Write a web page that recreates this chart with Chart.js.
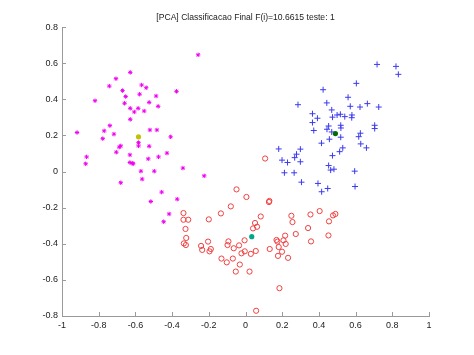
<!DOCTYPE html>
<html>
<head>
<meta charset="utf-8">
<script src="https://cdn.jsdelivr.net/npm/chart.js@4"></script>
<style>
  html, body { margin: 0; padding: 0; background: #fff; }
  #wrap { width: 474px; height: 355px; }
</style>
</head>
<body>
<div id="wrap"><canvas id="grafico" width="474" height="355"></canvas></div>
<script>
// grupo 1 (magenta, *)
const grupo1X = [-0.258, -0.628, -0.706, -0.742, -0.566, -0.541, -0.670, -0.376, -0.577, -0.653,
  -0.487, -0.820, -0.525, -0.659, -0.476, -0.628, -0.585, -0.606, -0.552, -0.628,
  -0.739, -0.770, -0.918, -0.717, -0.521, -0.483, -0.778, -0.408, -0.583, -0.583,
  -0.680, -0.688, -0.525, -0.704, -0.428, -0.866, -0.630, -0.474, -0.530, -0.871,
  -0.630, -0.617, -0.612, -0.341, -0.570, -0.497, -0.225, -0.563, -0.680, -0.457,
  -0.372, -0.516, -0.416, -0.446];
const grupo1Y = [0.646, 0.549, 0.514, 0.473, 0.479, 0.464, 0.448, 0.444, 0.428, 0.415,
  0.418, 0.392, 0.383, 0.378, 0.361, 0.350, 0.350, 0.330, 0.335, 0.289,
  0.254, 0.225, 0.216, 0.207, 0.230, 0.230, 0.182, 0.192, 0.160, 0.142,
  0.142, 0.135, 0.140, 0.107, 0.102, 0.081, 0.092, 0.081, 0.070, 0.043,
  0.050, 0.046, 0.043, 0.019, 0.002, 0.002, -0.024, -0.042, -0.062, -0.114,
  -0.153, -0.166, -0.235, -0.278];

// grupo 2 (azul, +)
const grupo2X = [0.717, 0.820, 0.833, 0.604, 0.423, 0.559, 0.286, 0.443, 0.571, 0.624,
  0.664, 0.726, 0.470, 0.365, 0.392, 0.474, 0.499, 0.517, 0.541, 0.580,
  0.579, 0.365, 0.453, 0.519, 0.520, 0.704, 0.704, 0.372, 0.444, 0.470,
  0.626, 0.617, 0.519, 0.457, 0.414, 0.628, 0.530, 0.659, 0.513, 0.181,
  0.299, 0.278, 0.268, 0.474, 0.199, 0.229, 0.299, 0.453, 0.482, 0.464,
  0.212, 0.265, 0.595, 0.305, 0.395, 0.448, 0.415, 0.597];
const grupo2Y = [0.593, 0.582, 0.538, 0.488, 0.453, 0.411, 0.370, 0.380, 0.361, 0.357,
  0.376, 0.357, 0.341, 0.320, 0.295, 0.301, 0.313, 0.317, 0.304, 0.313,
  0.298, 0.271, 0.252, 0.256, 0.241, 0.256, 0.238, 0.227, 0.234, 0.219,
  0.212, 0.193, 0.190, 0.179, 0.157, 0.153, 0.131, 0.131, 0.110, 0.125,
  0.124, 0.096, 0.077, 0.088, 0.063, 0.050, 0.054, 0.033, 0.013, 0.008,
  -0.007, -0.007, 0.002, -0.059, -0.066, -0.094, -0.112, -0.083];

// grupo 3 (vermelho, o)
const grupo3X = [0.107, -0.049, 0.005, -0.080, 0.128, 0.130, -0.134, -0.338, -0.338, -0.312,
  -0.200, 0.083, 0.052, 0.063, 0.041, 0.250, 0.256, 0.354, 0.404, 0.477,
  0.490, 0.455, 0.341, -0.327, 0.274, 0.216, 0.452, 0.357, -0.323, -0.336,
  -0.325, -0.204, -0.093, -0.005, -0.242, -0.236, -0.189, -0.196, -0.098, -0.064,
  -0.035, -0.022, -0.004, 0.029, 0.056, 0.169, 0.174, 0.207, 0.219, 0.181,
  0.132, 0.199, 0.177, 0.232, -0.131, -0.069, -0.102, -0.031, -0.053, 0.022,
  0.185, 0.058];
const grupo3Y = [0.072, -0.099, -0.141, -0.193, -0.169, -0.163, -0.232, -0.230, -0.267, -0.267,
  -0.265, -0.249, -0.285, -0.306, -0.315, -0.245, -0.280, -0.238, -0.219, -0.243,
  -0.235, -0.276, -0.313, -0.318, -0.346, -0.355, -0.354, -0.387, -0.368, -0.398,
  -0.407, -0.388, -0.387, -0.381, -0.412, -0.434, -0.429, -0.442, -0.407, -0.425,
  -0.409, -0.453, -0.442, -0.456, -0.440, -0.379, -0.388, -0.381, -0.401, -0.418,
  -0.429, -0.444, -0.467, -0.478, -0.482, -0.482, -0.503, -0.515, -0.554, -0.554,
  -0.646, -0.771];

// centroides
const centroX = [-0.583, 0.490, 0.034];
const centroY = [0.192, 0.210, -0.361];
const centroCores = ["#c2c200", "#006f00", "#00a88a"];

const xTicks = [-1, -0.8, -0.6, -0.4, -0.2, 0, 0.2, 0.4, 0.6, 0.8, 1];
const xTickLabels = ["-1", "-0.8", "-0.6", "-0.4", "-0.2", "0", "0.2", "0.4", "0.6", "0.8", "1"];
const yTicks = [-0.8, -0.6, -0.4, -0.2, 0, 0.2, 0.4, 0.6, 0.8];
const yTickLabels = ["-0.8", "-0.6", "-0.4", "-0.2", "0", "0.2", "0.4", "0.6", "0.8"];

const titulo = "[PCA] Classificacao Final F(i)=10.6615 teste: 1";

const pontos = (xs, ys) => xs.map((x, i) => ({ x: x, y: ys[i] }));

// ticks pra dentro, estilo matlab
const ticksDentro = {
  id: "ticksDentro",
  afterDraw(chart) {
    const ctx = chart.ctx;
    const sx = chart.scales.x, sy = chart.scales.y;
    const area = chart.chartArea;
    ctx.save();
    ctx.strokeStyle = "#9a9a9a";
    ctx.lineWidth = 1;
    ctx.beginPath();
    xTicks.forEach((v) => {
      const px = Math.round(sx.getPixelForValue(v)) + 0.5;
      ctx.moveTo(px, area.bottom);
      ctx.lineTo(px, area.bottom - 4);
    });
    yTicks.forEach((v) => {
      const py = Math.round(sy.getPixelForValue(v)) + 0.5;
      ctx.moveTo(area.left, py);
      ctx.lineTo(area.left + 4, py);
    });
    ctx.stroke();
    ctx.restore();
  },
};

// titulo centrado sobre a area do grafico
const tituloCentrado = {
  id: "tituloCentrado",
  afterLayout(chart) {
    const tb = chart.titleBlock;
    if (!tb) return;
    tb.left = chart.chartArea.left;
    tb.right = chart.chartArea.right;
    tb.width = tb.right - tb.left;
  },
};

const canvas = document.getElementById("grafico").getContext("2d");

const grafico = new Chart(canvas, {
  type: "scatter",
  data: {
    datasets: [
      {
        label: "grupo 1",
        data: pontos(grupo1X, grupo1Y),
        pointStyle: "star",
        pointRadius: 2.2,
        borderColor: "#f000f0",
        backgroundColor: "#f000f0",
        borderWidth: 1,
      },
      {
        label: "grupo 2",
        data: pontos(grupo2X, grupo2Y),
        pointStyle: "cross",
        pointRadius: 3,
        borderColor: "#3b3bf0",
        backgroundColor: "#3b3bf0",
        borderWidth: 1,
      },
      {
        label: "grupo 3",
        data: pontos(grupo3X, grupo3Y),
        pointStyle: "circle",
        pointRadius: 2.6,
        borderColor: "#f04040",
        backgroundColor: "rgba(0,0,0,0)",
        borderWidth: 1,
      },
      {
        label: "centroides",
        data: pontos(centroX, centroY),
        pointStyle: "circle",
        pointRadius: 2.6,
        borderColor: centroCores,
        backgroundColor: centroCores,
        borderWidth: 0,
      },
    ],
  },
  options: {
    responsive: false,
    animation: false,
    layout: {
      padding: { left: 0, right: 45, top: 0, bottom: 0 },
    },
    plugins: {
      legend: { display: false },
      tooltip: { enabled: false },
      title: {
        display: true,
        text: titulo,
        color: "#222",
        font: { family: "Arial, 'Liberation Sans', sans-serif", size: 8.6, weight: "normal", lineHeight: 1.4 },
        padding: { top: 12, bottom: 3 },
      },
    },
    scales: {
      x: {
        type: "linear",
        min: -1,
        max: 1,
        afterBuildTicks: (s) => { s.ticks = xTicks.map((v) => ({ value: v })); },
        afterFit: (s) => { s.height = 39; },
        grid: { display: false, drawTicks: false },
        border: { display: true, color: "#9a9a9a", width: 1 },
        ticks: {
          padding: 4,
          maxRotation: 0,
          autoSkip: false,
          color: "#222",
          font: { family: "Arial, 'Liberation Sans', sans-serif", size: 9 },
          callback: (v, i) => xTickLabels[i],
        },
      },
      y: {
        type: "linear",
        min: -0.8,
        max: 0.8,
        afterBuildTicks: (s) => { s.ticks = yTicks.map((v) => ({ value: v })); },
        afterFit: (s) => { s.width = 62; },
        grid: { display: false, drawTicks: false },
        border: { display: true, color: "#9a9a9a", width: 1 },
        ticks: {
          padding: 4,
          autoSkip: false,
          color: "#222",
          font: { family: "Arial, 'Liberation Sans', sans-serif", size: 9 },
          callback: (v, i) => yTickLabels[i],
        },
      },
    },
  },
  plugins: [ticksDentro, tituloCentrado],
});
</script>
</body>
</html>
